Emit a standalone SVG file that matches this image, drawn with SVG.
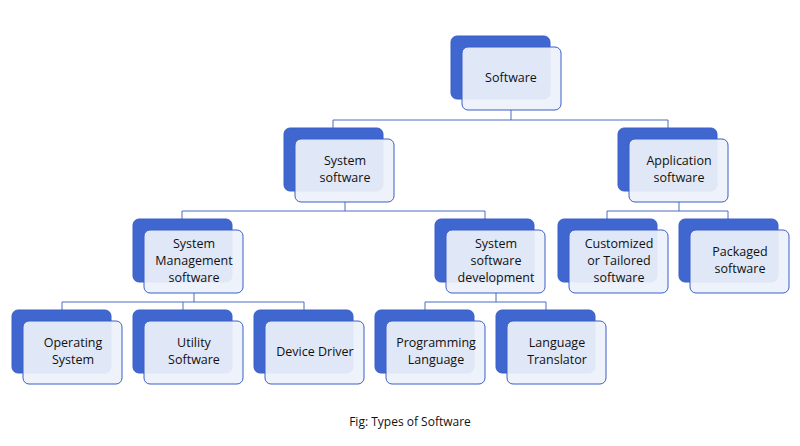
<svg xmlns="http://www.w3.org/2000/svg" width="800" height="446" viewBox="0 0 800 446">
<style>
.b{fill:#3f67cf;stroke:#3a5fc8;stroke-width:1}
.f{fill:#edf1fa;fill-opacity:0.93;stroke:#3a5fc8;stroke-width:1}
text{font-family:"Open Sans","Liberation Sans",sans-serif;font-size:12.5px;fill:#111;text-anchor:middle}
.c{stroke:#4a6cc4;stroke-width:1;fill:none}
</style>
<defs>
<g id="n"><rect class="b" x="0" y="0" width="99" height="63" rx="6"/><rect class="f" x="11" y="11" width="99" height="63" rx="6"/></g>
</defs>
<rect width="800" height="446" fill="#fff"/>
<g id="connectors">
<path class="c" d="M511 110V120M333 120H668M333 120V128M668 120V128"/>
<path class="c" d="M345 202V211M182 211H485M182 211V219M485 211V219"/>
<path class="c" d="M679 202V211M607 211H728M607 211V219M728 211V219"/>
<path class="c" d="M194 293V302M62 302H304M62 302V310M183 302V310M304 302V310"/>
<path class="c" d="M496 293V302M425 302H546M425 302V310M546 302V310"/>
</g>
<g id="software"><use href="#n" x="451" y="36"/><text x="511" y="82">Software</text></g>
<g id="system"><use href="#n" x="284" y="128"/><text x="345" y="165">System</text><text x="345" y="182">software</text></g>
<g id="application"><use href="#n" x="618" y="128"/><text x="679" y="165">Application</text><text x="679" y="182">software</text></g>
<g id="sysmgmt"><use href="#n" x="133" y="219"/><text x="194" y="248">System</text><text x="194" y="265">Management</text><text x="194" y="282">software</text></g>
<g id="sysdev"><use href="#n" x="435" y="219"/><text x="496" y="248">System</text><text x="496" y="265">software</text><text x="496" y="282">development</text></g>
<g id="customized"><use href="#n" x="558" y="219"/><text x="619" y="248">Customized</text><text x="619" y="265">or Tailored</text><text x="619" y="282">software</text></g>
<g id="packaged"><use href="#n" x="679" y="219"/><text x="740" y="256">Packaged</text><text x="740" y="273">software</text></g>
<g id="os"><use href="#n" x="12" y="310"/><text x="73" y="347">Operating</text><text x="73" y="364">System</text></g>
<g id="utility"><use href="#n" x="133" y="310"/><text x="194" y="347">Utility</text><text x="194" y="364">Software</text></g>
<g id="driver"><use href="#n" x="254" y="310"/><text x="315" y="356">Device Driver</text></g>
<g id="proglang"><use href="#n" x="375" y="310"/><text x="436" y="347">Programming</text><text x="436" y="364">Language</text></g>
<g id="translator"><use href="#n" x="496" y="310"/><text x="557" y="347">Language</text><text x="557" y="364">Translator</text></g>
<text x="410" y="426" style="font-size:12px">Fig: Types of Software</text>
</svg>
